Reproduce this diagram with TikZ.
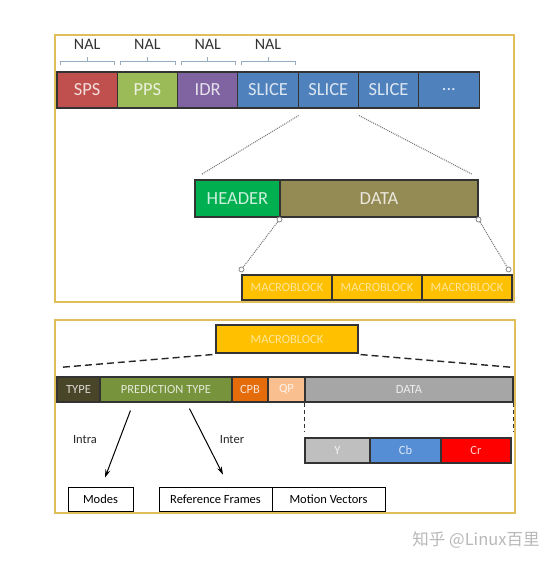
\documentclass[tikz,border=0pt]{standalone}
\usepackage{fontspec}
\setmainfont{Carlito}
\newfontfamily\cjkfont{Noto Sans CJK SC}
\usepackage{xcolor}
\definecolor{spsred}{RGB}{192,80,77}
\definecolor{ppsgreen}{RGB}{155,187,89}
\definecolor{idrpurple}{RGB}{128,100,162}
\definecolor{sliceblue}{RGB}{79,129,189}
\definecolor{headgreen}{RGB}{0,176,80}
\definecolor{dataolive}{RGB}{148,138,84}
\definecolor{mbgold}{RGB}{255,192,0}
\definecolor{typebrown}{RGB}{73,69,41}
\definecolor{predgreen}{RGB}{119,147,60}
\definecolor{cpborange}{RGB}{228,108,10}
\definecolor{qppeach}{RGB}{250,191,143}
\definecolor{datagray}{RGB}{166,166,166}
\definecolor{lumagray}{RGB}{191,191,191}
\definecolor{cbblue}{RGB}{85,142,213}
\definecolor{crred}{RGB}{255,0,0}
\definecolor{framegold}{RGB}{226,190,90}
\definecolor{nalgray}{RGB}{150,170,195}
\usepackage{tikz}
\usetikzlibrary{
    arrows.meta,
    calc
}

\begin{document}
\begin{tikzpicture}[
    x=1pt, y=-1pt,
    field/.style={draw=black!80, line width=1.1pt, inner sep=0pt, fill=#1, text=#1!20!white},
    nalfield/.style={field=#1, minimum width=60.3pt, minimum height=36pt, font=\fontsize{18.5}{20}\selectfont},
    slicefield/.style={field=#1, minimum height=37pt, font=\fontsize{18.5}{20}\selectfont},
    mbfield/.style={field=mbgold, text=mbgold!40!white, minimum width=90pt, minimum height=25pt, font=\fontsize{12.5}{14}\selectfont},
    smallfield/.style={field=#1, minimum height=25pt, font=\fontsize{12.5}{14}\selectfont},
    plainbox/.style={draw=black, line width=0.9pt, fill=white, inner sep=0pt, minimum height=24pt, font=\fontsize{12.5}{14}\selectfont},
    nallabel/.style={text=black!80, font=\fontsize{16}{18}\selectfont},
    sidelabel/.style={text=black!85, font=\fontsize{12.5}{14}\selectfont},
    nalbracket/.style={draw=nalgray, line width=0.9pt},
    zoomline/.style={densely dotted, draw=black!55, line width=1pt},
    handle/.style={circle, draw=black!45, fill=white, minimum size=5pt, inner sep=0pt, line width=0.8pt},
    fanline/.style={dash pattern=on 7pt off 4pt, line width=1.4pt, draw=black!85},
    splitline/.style={dash pattern=on 4pt off 3pt, line width=1pt, draw=black!80},
    pointer/.style={-{Stealth[length=8pt, width=5pt]}, line width=1pt}
]
\useasboundingbox (0,0) rectangle (556,562);

% Frames
\draw[framegold, line width=1.2pt] (55,35) rectangle (514,302);
\draw[framegold, line width=1.2pt] (55,320) rectangle (515,513);

% Stream of NAL units
\node[nalfield=spsred] (sps) at (87.1,90) {SPS};
\node[nalfield=ppsgreen] (pps) at (147.4,90) {PPS};
\node[nalfield=idrpurple] (idr) at (207.7,90) {IDR};
\node[nalfield=sliceblue] (sliceA) at (268.0,90) {SLICE};
\node[nalfield=sliceblue] (sliceB) at (328.3,90) {SLICE};
\node[nalfield=sliceblue] (sliceC) at (388.6,90) {SLICE};
\node[nalfield=sliceblue] (more) at (448.9,90) {...};

% NAL brackets
\foreach \cell in {sps, pps, idr, sliceA} {
    \draw[nalbracket] ($(\cell.north west)+(4,-6)$) -- ++(0,-4) -- ($(\cell.north east)+(-3,-10)$) -- ++(0,4);
    \draw[nalbracket] ($(\cell.north)+(0,-10)$) -- ++(0,-4);
    \node[nallabel] (nal-\cell) at ($(\cell.north)+(0,-27)$) {NAL};
}

% Slice = header + data
\node[slicefield=headgreen, minimum width=85pt] (header) at (237.5,198.5) {HEADER};
\node[slicefield=dataolive, minimum width=198pt] (data) at (379,198.5) {DATA};
\draw[zoomline] ($(sliceB.south west)+(1,7)$) -- ($(header.north west)+(7,-5)$);
\draw[zoomline] ($(sliceB.south east)+(0,7)$) -- ($(data.north east)+(-6,-5)$);

% Slice data = macroblocks
\node[mbfield] (mbA) at (287,287.5) {MACROBLOCK};
\node[mbfield] (mbB) at (377,287.5) {MACROBLOCK};
\node[mbfield] (mbC) at (467,287.5) {MACROBLOCK};
\node[handle] (hA) at ($(data.south west)+(0,2)$) {};
\node[handle] (hB) at ($(data.south east)+(0,2)$) {};
\node[handle] (hC) at ($(mbA.north west)+(0,-5)$) {};
\node[handle] (hD) at ($(mbC.north east)+(-4,-5)$) {};
\draw[zoomline] (hA) -- (hC);
\draw[zoomline] (hB) -- (hD);

% Macroblock layout
\node[field=mbgold, text=mbgold!40!white, minimum width=142pt, minimum height=28pt, font=\fontsize{12.5}{14}\selectfont] (mbTop) at (287,339) {MACROBLOCK};
\node[smallfield=typebrown, minimum width=43pt] (typeF) at (78.5,389.5) {TYPE};
\node[smallfield=predgreen, minimum width=132pt] (predF) at (166,389.5) {PREDICTION TYPE};
\node[smallfield=cpborange, minimum width=36pt] (cpbF) at (250,389.5) {CPB};
\node[smallfield=qppeach, minimum width=37pt] (qpF) at (286.5,389.5) {QP};
\node[smallfield=datagray, minimum width=208pt] (bdata) at (409,389.5) {DATA};
\draw[fanline] ($(mbTop.south west)+(-3,1)$) -- ($(typeF.north west)+(3,-9)$);
\draw[fanline] ($(mbTop.south east)+(2,1)$) -- ($(bdata.north east)+(0,-9)$);

% Colour components
\node[smallfield=lumagray, minimum width=65pt] (yF) at (337.5,450.5) {Y};
\node[smallfield=cbblue, minimum width=71pt] (cbF) at (405.5,450.5) {Cb};
\node[smallfield=crred, minimum width=70pt] (crF) at (476,450.5) {Cr};
\draw[splitline] (bdata.south west) -- ($(yF.north west)+(0,-6)$);
\draw[splitline] (bdata.south east) -- ($(crF.north east)+(2,-6)$);

% Prediction
\node[plainbox, minimum width=65pt] (modes) at (100.5,499) {Modes};
\node[plainbox, minimum width=113pt] (refs) at (215.5,499) {Reference Frames};
\node[plainbox, minimum width=113pt] (mvecs) at (328.5,499) {Motion Vectors};
\draw[pointer] ($(predF.south west)+(31,8)$) -- ($(modes.north)+(4.5,-9)$);
\draw[pointer] ($(predF.south west)+(90,6)$) -- ($(refs.north)+(7.5,-12)$);
\node[sidelabel] (intraL) at (85,440) {Intra};
\node[sidelabel] (interL) at (232,440) {Inter};

% Watermark
\node[text=black!28, font=\cjkfont\fontsize{16.5}{18}\selectfont] (mark) at (476,540) {知乎 @Linux百里};

\end{tikzpicture}
\end{document}
